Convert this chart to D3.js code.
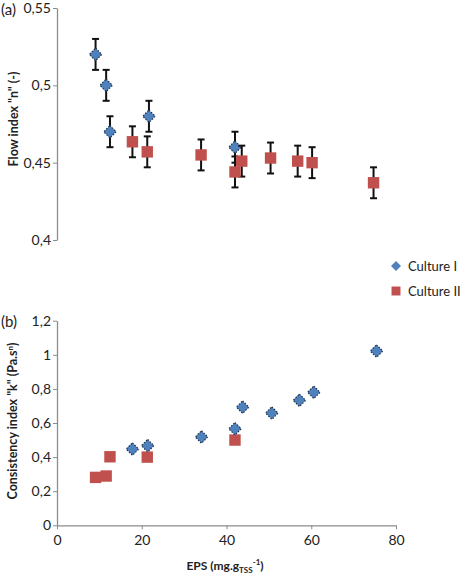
<!DOCTYPE html>
<html>
<head>
<meta charset="utf-8">
<script src="https://cdn.jsdelivr.net/npm/d3@7"></script>
<style>
  body { margin: 0; background: #fff; }
  svg { display: block; font-family: Lato, "Open Sans", sans-serif; }
</style>
</head>
<body>
<svg id="chart" width="461" height="576"></svg>
<script>
/// data ///
// panel (a): flow index n vs EPS
const nCulture1Eps = [9.1, 11.6, 12.5, 21.7, 42.0];
const nCulture1 = [0.520, 0.500, 0.470, 0.480, 0.460];
const nCulture2Eps = [17.8, 21.3, 34.0, 42.0, 43.6, 50.4, 56.8, 60.2, 74.7];
const nCulture2 = [0.4635, 0.457, 0.455, 0.444, 0.451, 0.453, 0.451, 0.450, 0.437];
const nError = 0.01;

// panel (b): consistency index k vs EPS
const kCulture1Eps = [17.8, 21.4, 34.1, 42.0, 43.8, 50.7, 57.2, 60.6, 75.4];
const kCulture1 = [0.447, 0.467, 0.518, 0.566, 0.693, 0.658, 0.733, 0.780, 1.022];
const kCulture2Eps = [9.1, 11.6, 12.5, 21.3, 42.0];
const kCulture2 = [0.281, 0.289, 0.402, 0.400, 0.500];

const nTicks = [0.4, 0.45, 0.5, 0.55];
const kTicks = [0, 0.2, 0.4, 0.6, 0.8, 1, 1.2];
const epsTicks = [0, 20, 40, 60, 80];
const seriesNames = ["Culture I", "Culture II"];

/// style ///
const blue = "#4f81bd";
const red = "#c0504d";
const axisColour = "#8c8c8c";
const textColour = "#222";

const svg = d3.select("#chart");
const comma = v => String(v).replace(".", ",");

// shared x scale
const x = d3.scaleLinear().domain([0, 80]).range([57, 396]);

const yN = d3.scaleLinear().domain([0.4, 0.55]).range([240, 8]);
const yK = d3.scaleLinear().domain([0, 1.2]).range([525.3, 320.7]);

// y axes
function yAxis(scale, ticks) {
  return g => g
    .call(d3.axisLeft(scale).tickValues(ticks).tickSize(4).tickSizeOuter(0).tickFormat(comma))
    .call(g => g.select(".domain").attr("stroke", axisColour).attr("stroke-width", 1.3))
    .call(g => g.selectAll(".tick line").attr("stroke", axisColour))
    .call(g => g.selectAll(".tick text")
      .attr("fill", textColour)
      .attr("font-size", "14px")
      .attr("font-family", "Lato, 'Open Sans', sans-serif")
      .attr("x", -6));
}

svg.append("g").attr("transform", `translate(${x(0)},0)`).call(yAxis(yN, nTicks));
svg.append("g").attr("transform", `translate(${x(0)},0)`).call(yAxis(yK, kTicks));

// x axis for panel (b)
svg.append("g")
  .attr("transform", `translate(0,${yK(0)})`)
  .call(d3.axisBottom(x).tickValues(epsTicks).tickSize(4).tickSizeOuter(0))
  .call(g => g.select(".domain").attr("stroke", axisColour).attr("stroke-width", 1.3))
  .call(g => g.selectAll(".tick line").attr("stroke", axisColour))
  .call(g => g.selectAll(".tick text")
    .attr("fill", textColour)
    .attr("font-size", "14px")
    .attr("font-family", "Lato, 'Open Sans', sans-serif")
    .attr("y", 10));

// panel letters
svg.append("text").attr("x", 1).attr("y", 15).attr("font-size", "15px").attr("fill", textColour).text("(a)");
svg.append("text").attr("x", 1).attr("y", 327).attr("font-size", "15px").attr("fill", textColour).text("(b)");

// axis titles
svg.append("text")
  .attr("transform", "translate(18,119) rotate(-90)")
  .attr("text-anchor", "middle")
  .attr("font-size", "12.5px").attr("font-weight", "bold").attr("fill", textColour)
  .text('Flow index "n" (-)');

const kTitle = svg.append("text")
  .attr("transform", "translate(17,421) rotate(-90)")
  .attr("text-anchor", "middle")
  .attr("font-size", "12.5px").attr("font-weight", "bold").attr("fill", textColour);
kTitle.append("tspan").text('Consistency index "k" (Pa.s');
kTitle.append("tspan").attr("font-size", "8px").attr("dy", -4).text("n");
kTitle.append("tspan").attr("dy", 4).text(")");

const xTitle = svg.append("text")
  .attr("x", 225).attr("y", 570)
  .attr("text-anchor", "middle")
  .attr("font-size", "12px").attr("font-weight", "bold").attr("fill", textColour);
xTitle.append("tspan").text("EPS (mg.g");
xTitle.append("tspan").attr("font-size", "8px").attr("dy", 3).text("TSS");
xTitle.append("tspan").attr("font-size", "8px").attr("dy", -8).text("-1");
xTitle.append("tspan").attr("dy", 5).text(")");

// markers: diamond drawn as a rotated square so it is as wide as it is tall
const diamond = d3.symbol().type(d3.symbolSquare).size(78);
const square = d3.symbol().type(d3.symbolSquare).size(130);

function errorBars(g, xs, ys, yScale, err) {
  const pts = xs.map((v, i) => ({ x: v, y: ys[i] }));
  const bar = g.selectAll(null).data(pts).join("g").attr("stroke", "#111").attr("stroke-width", 2);
  bar.append("line")
    .attr("x1", d => x(d.x)).attr("x2", d => x(d.x))
    .attr("y1", d => yScale(d.y + err)).attr("y2", d => yScale(d.y - err));
  bar.append("line")
    .attr("x1", d => x(d.x) - 3.5).attr("x2", d => x(d.x) + 3.5)
    .attr("y1", d => yScale(d.y + err)).attr("y2", d => yScale(d.y + err));
  bar.append("line")
    .attr("x1", d => x(d.x) - 3.5).attr("x2", d => x(d.x) + 3.5)
    .attr("y1", d => yScale(d.y - err)).attr("y2", d => yScale(d.y - err));
}

function points(g, xs, ys, yScale, sym, colour, isDiamond) {
  g.selectAll(null)
    .data(xs.map((v, i) => ({ x: v, y: ys[i] })))
    .join("path")
    .attr("d", sym)
    .attr("transform", d => `translate(${x(d.x)},${yScale(d.y)})` + (isDiamond ? " rotate(45)" : ""))
    .attr("fill", colour)
    .attr("stroke", isDiamond ? "#1c2f4a" : "none")
    .attr("stroke-width", isDiamond ? 1.2 : 0)
    .attr("stroke-dasharray", isDiamond ? "1.5,1.5" : null);
}

// panel (a)
const gA = svg.append("g");
errorBars(gA, nCulture1Eps, nCulture1, yN, nError);
points(gA, nCulture1Eps, nCulture1, yN, diamond, blue, true);
errorBars(gA, nCulture2Eps, nCulture2, yN, nError);
points(gA, nCulture2Eps, nCulture2, yN, square, red, false);

// panel (b)
const gB = svg.append("g");
points(gB, kCulture2Eps, kCulture2, yK, square, red, false);
points(gB, kCulture1Eps, kCulture1, yK, diamond, blue, true);

// legend
const legend = svg.append("g").attr("transform", "translate(396,266)");
legend.append("path").attr("d", d3.symbol().type(d3.symbolSquare).size(50))
  .attr("transform", "rotate(45)").attr("fill", blue);
legend.append("path").attr("d", d3.symbol().type(d3.symbolSquare).size(80))
  .attr("transform", "translate(0,25)").attr("fill", red);
legend.selectAll("text")
  .data(seriesNames)
  .join("text")
  .attr("x", 12).attr("y", (d, i) => i * 25 + 4.5)
  .attr("font-size", "13px").attr("fill", textColour)
  .text(d => d);
</script>
</body>
</html>
